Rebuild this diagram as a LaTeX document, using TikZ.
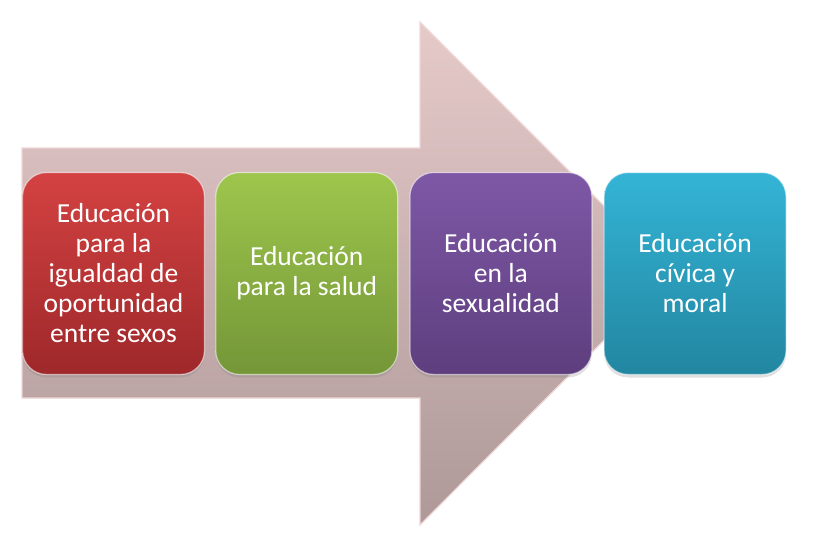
\documentclass[tikz,border=0pt]{standalone}
\usepackage{fontspec}
\setmainfont{Carlito}
\usepackage{tikz}
\usetikzlibrary{
  positioning,
  shadows
}
\definecolor{rojoA}{RGB}{212,66,66}
\definecolor{rojoB}{RGB}{158,40,42}
\definecolor{verdeA}{RGB}{158,198,76}
\definecolor{verdeB}{RGB}{116,150,56}
\definecolor{moradoA}{RGB}{126,88,166}
\definecolor{moradoB}{RGB}{94,62,126}
\definecolor{cianA}{RGB}{52,180,214}
\definecolor{cianB}{RGB}{34,134,160}
\definecolor{flechaA}{RGB}{230,202,202}
\definecolor{flechaB}{RGB}{174,152,152}
\definecolor{flechaBorde}{RGB}{240,214,214}
\tikzstyle{flecha}=[top color=flechaA, bottom color=flechaB, draw=flechaBorde, line width=1.2pt]
\tikzstyle{caja}=[rounded corners=24pt, minimum width=182pt, minimum height=202pt,
  align=center, inner sep=0pt, text=white,
  font=\fontsize{27.5}{30}\selectfont,
  draw=white, draw opacity=0.55, line width=1.2pt,
  drop shadow={opacity=0.25, shadow xshift=0pt, shadow yshift=-3pt}]

\begin{document}
\begin{tikzpicture}[x=1pt,y=-1pt]
    \useasboundingbox (0,0) rectangle (815,543);

    % flecha de fondo
    \draw[flecha] (22,148) -- (420,148) -- (420,22) -- (671,273)
      -- (420,525) -- (420,398) -- (22,398) -- cycle;

    % cajas
    \node[caja, top color=rojoA, bottom color=rojoB] (igualdad) at (113.5,273.5)
      {Educación\\para la\\igualdad de\\oportunidad\\entre sexos};
    \node[caja, top color=verdeA, bottom color=verdeB, right=10pt of igualdad] (salud)
      {Educación\\para la salud};
    \node[caja, top color=moradoA, bottom color=moradoB, right=11pt of salud] (sexualidad)
      {Educación\\en la\\sexualidad};
    \node[caja, top color=cianA, bottom color=cianB, right=11pt of sexualidad] (civica)
      {Educación\\cívica y\\moral};
  \end{tikzpicture}
\end{document}
